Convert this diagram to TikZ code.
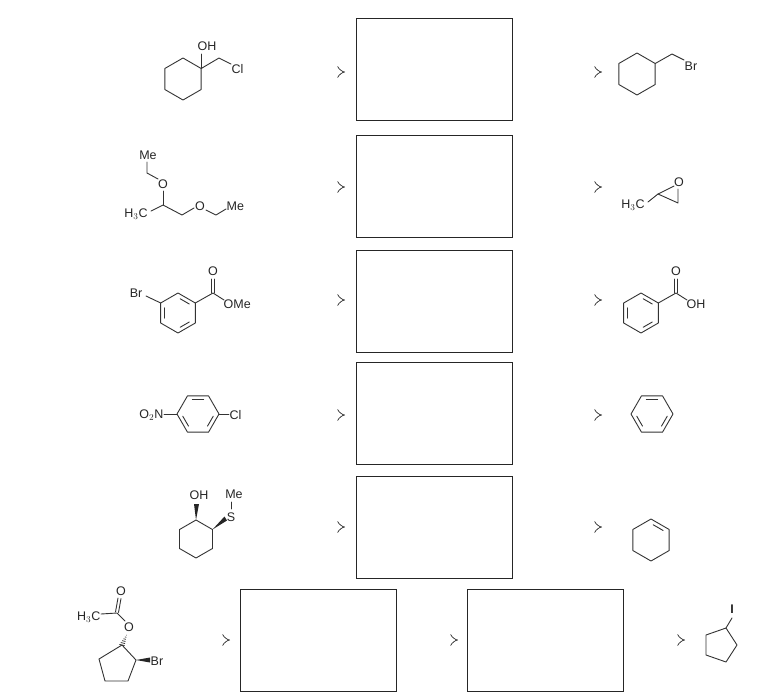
\documentclass[tikz,border=0pt]{standalone}
\usepackage{fontspec}
\setmainfont{Liberation Sans}
\usetikzlibrary{arrows.meta,calc}
\begin{document}
\begin{tikzpicture}[x=1pt,y=-1pt,
 bond/.style={line width=0.9pt, draw=black!80, line cap=round, line join=round},
 inner/.style={bond, shorten <=2.5pt, shorten >=2.5pt},
 lab/.style={font=\fontsize{12.5}{14}\selectfont, inner sep=0.5pt, text=black!85},
 box/.style={draw=black!85, line width=0.9pt, minimum width=156pt, minimum height=102pt, inner sep=0pt},
 arr/.style={double, double distance=3.4pt, line width=0.7pt, draw=black!85, -{Implies}}]
\useasboundingbox (0,0) rectangle (774,697);
% boxes
\node[box] (b1) at (434,69) {};
\node[box] (b2) at (434,186) {};
\node[box] (b3) at (434,301.5) {};
\node[box] (b4) at (434,413) {};
\node[box] (b5) at (434,527) {};
\node[box] (b6a) at (318,640.5) {};
\node[box] (b6b) at (545,640.5) {};
% arrows
\foreach \n/\y/\xa in {1/72/267,2/187/267,3/300/272,4/415/267,5/527/267}{
  \coordinate (l\n s) at (\xa,\y); \coordinate (l\n e) at (345,\y);
  \coordinate (r\n s) at (525,\y); \coordinate (r\n e) at (602,\y);
  \draw[arr] (l\n s) -- (l\n e);
  \draw[arr] (r\n s) -- (r\n e);
}
\coordinate (l6s) at (178,640); \coordinate (l6e) at (230,640);
\coordinate (m6s) at (408,640); \coordinate (m6e) at (458,640);
\coordinate (r6s) at (634,640); \coordinate (r6e) at (685,640);
\draw[arr] (l6s) -- (l6e); \draw[arr] (m6s) -- (m6e); \draw[arr] (r6s) -- (r6e);

% ---- row 1 left
\draw[bond] (183,79) +(30:21) -- +(90:21) -- +(150:21) -- +(210:21) -- +(270:21) -- +(330:21) -- cycle;
\draw[bond] (201.2,68.5) -- (201.2,54);
\node[lab] (oh1) at (207,46) {OH};
\draw[bond] (201.2,68.5) -- (219,58) -- (231,64);
\node[lab,anchor=west] (cl1) at (231,69) {Cl};
% row 1 right
\draw[bond] (637,74) +(30:21) -- +(90:21) -- +(150:21) -- +(210:21) -- +(270:21) -- +(330:21) -- cycle;
\draw[bond] (655.2,63.5) -- (672,54) -- (684,60);
\node[lab,anchor=west] (br1) at (684,66) {Br};

% ---- row 2 left
\node[lab] (me2a) at (148,155) {Me};
\draw[bond] (147,162) -- (147,173) -- (158,179);
\node[lab] (o2a) at (163,184) {O};
\draw[bond] (163,191) -- (163,205);
\node[lab] (h3c2) at (136,214) {H$_3$C};
\draw[bond] (151,211) -- (163,205) -- (182,215) -- (194,208);
\node[lab] (o2b) at (200,206) {O};
\draw[bond] (206,210) -- (216,215) -- (226,209);
\node[lab,anchor=west] (me2b) at (226,206) {Me};
% row 2 right
\node[lab] (h3c2r) at (633,205) {H$_3$C};
\draw[bond] (648,202) -- (658,194);
\node[lab] (o2r) at (679,182) {O};
\draw[bond] (658,194) -- (674,186);
\draw[bond] (658,194) -- (678,203) -- (678,189);

% ---- row 3 left
\draw[bond] (178,313) +(30:20) -- +(90:20) -- +(150:20) -- +(210:20) -- +(270:20) -- +(330:20) -- cycle;
\draw[inner] ($(178,313)+(150:15.5)$) -- ($(178,313)+(210:15.5)$);
\draw[inner] ($(178,313)+(30:15.5)$) -- ($(178,313)+(90:15.5)$);
\draw[inner] ($(178,313)+(270:15.5)$) -- ($(178,313)+(330:15.5)$);
\node[lab] (br3) at (136,293) {Br};
\draw[bond] (146,296) -- (160.7,303);
\draw[bond] (195.3,303) -- (213,293) -- (224,300);
\draw[bond] (211.5,293) -- (211.5,279); \draw[bond] (214.5,293) -- (214.5,279);
\node[lab] (o3) at (213,271) {O};
\node[lab,anchor=west] (ome3) at (223,304) {OMe};
% row 3 right
\draw[bond] (641,313) +(30:20) -- +(90:20) -- +(150:20) -- +(210:20) -- +(270:20) -- +(330:20) -- cycle;
\draw[inner] ($(641,313)+(150:15.5)$) -- ($(641,313)+(210:15.5)$);
\draw[inner] ($(641,313)+(30:15.5)$) -- ($(641,313)+(90:15.5)$);
\draw[inner] ($(641,313)+(270:15.5)$) -- ($(641,313)+(330:15.5)$);
\draw[bond] (658.3,303) -- (676,293) -- (687,300);
\draw[bond] (674.5,293) -- (674.5,279); \draw[bond] (677.5,293) -- (677.5,279);
\node[lab] (o3r) at (676,271) {O};
\node[lab,anchor=west] (oh3r) at (686,304) {OH};

% ---- row 4 left
\draw[bond] (198,414) +(0:21) -- +(60:21) -- +(120:21) -- +(180:21) -- +(240:21) -- +(300:21) -- cycle;
\draw[inner] ($(198,414)+(240:16.5)$) -- ($(198,414)+(300:16.5)$);
\draw[inner] ($(198,414)+(0:16.5)$) -- ($(198,414)+(60:16.5)$);
\draw[inner] ($(198,414)+(120:16.5)$) -- ($(198,414)+(180:16.5)$);
\node[lab,anchor=east] (no2) at (164,415) {O$_2$N};
\draw[bond] (164,414) -- (177,414);
\draw[bond] (219,414) -- (229,414);
\node[lab,anchor=west] (cl4) at (229,415) {Cl};
% row 4 right
\draw[bond] (652,414) +(0:21) -- +(60:21) -- +(120:21) -- +(180:21) -- +(240:21) -- +(300:21) -- cycle;
\draw[inner] ($(652,414)+(240:16.5)$) -- ($(652,414)+(300:16.5)$);
\draw[inner] ($(652,414)+(0:16.5)$) -- ($(652,414)+(60:16.5)$);
\draw[inner] ($(652,414)+(120:16.5)$) -- ($(652,414)+(180:16.5)$);

% ---- row 5 left
\draw[bond] (196,539) +(30:19) -- +(90:19) -- +(150:19) -- +(210:19) -- +(270:19) -- +(330:19) -- cycle;
\fill[black!85] (196,520) -- (194,504) -- (199,504) -- cycle;
\node[lab] (oh5) at (199,495) {OH};
\fill[black!85] (212.5,529.5) -- (224.5,516.5) -- (227,520.5) -- cycle;
\node[lab] (s5) at (231,517) {S};
\draw[bond] (231,509) -- (231,502);
\node[lab] (me5) at (234,494) {Me};
% row 5 right
\draw[bond] (651,540) +(30:21) -- +(90:21) -- +(150:21) -- +(210:21) -- +(270:21) -- +(330:21) -- cycle;
\draw[inner] ($(651,540)+(270:16.5)$) -- ($(651,540)+(330:16.5)$);

% ---- row 6 left
\node[lab,anchor=east] (h3c6) at (101,617) {H$_3$C};
\draw[bond] (101,614) -- (117,613) -- (125,621);
\draw[bond] (115.5,612) -- (118,598); \draw[bond] (118.5,612.5) -- (121,598.5);
\node[lab] (o6a) at (121,591) {O};
\node[lab] (o6b) at (129,627) {O};
\foreach \t in {0.1,0.28,0.46,0.64,0.82,1.0}{
  \draw[line width=0.7pt,black!85] ($(127,634)!\t!(122,645)$) ++(-2.6*\t,-0.6*\t) -- ++(5.2*\t,1.2*\t);
}
\draw[bond] (122,645) -- (136,660) -- (128,681) -- (105,681) -- (99,659) -- cycle;
\fill[black!85] (136,660) -- (150,657.5) -- (150,662.5) -- cycle;
\node[lab,anchor=west] (br6) at (150,661) {Br};
% row 6 right
\draw[bond] (726,628) -- (737,645) -- (726,662) -- (706,655) -- (706,635) -- cycle;
\draw[bond] (726,628) -- (732,618);
\node[lab,font=\fontsize{12.5}{14}\selectfont\bfseries] (i6) at (732,609) {I};
\end{tikzpicture}
\end{document}
